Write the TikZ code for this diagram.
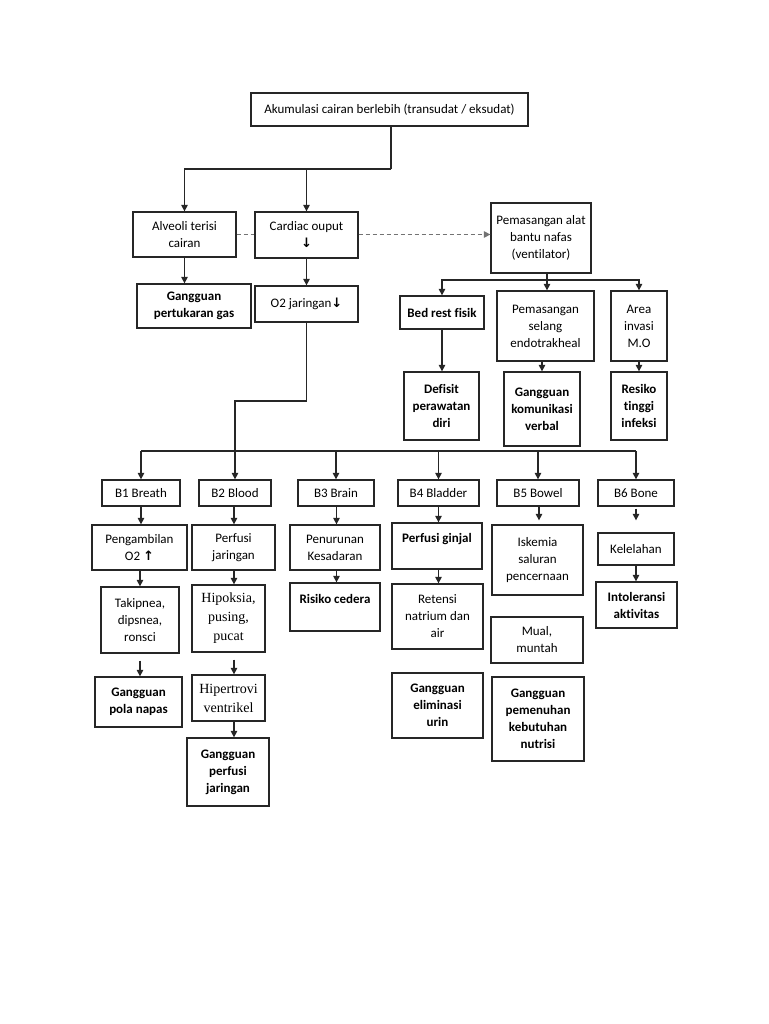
\documentclass[tikz,border=0pt]{standalone}
\usepackage{fontspec}
\setmainfont{Carlito}[Ligatures=NoCommon]
\newfontfamily\serf{Liberation Serif}
\newfontfamily\symf{DejaVu Sans}
\usetikzlibrary{arrows.meta}
\begin{document}
\begin{tikzpicture}[x=1pt,y=-1pt,
  bx/.style={draw=black!85, line width=1.3pt, align=center, inner sep=0pt, font=\fontsize{13}{17}\selectfont},
  bb/.style={bx, font=\fontsize{13}{17}\selectfont\bfseries},
  ser/.style={bx, font=\fontsize{14}{19}\selectfont\serf},
  sz/.style 2 args={minimum width=#1pt, minimum height=#2pt},
  arr/.style={draw=black!85, line width=1.3pt, -{Triangle[length=6.5pt,width=6.5pt]}},
  ln/.style={draw=black!85, line width=1.3pt},
  dsh/.style={draw=black!55, line width=1.2pt, dash pattern=on 4pt off 3pt},
  darr/.style={dsh, -{Triangle[length=6.5pt,width=6.5pt]}},
]
\path[use as bounding box] (0,0) rectangle (768,1024);

% top level
\node[bx, sz={277}{33}] (top) at (389.5,109.5) {Akumulasi cairan berlebih (transudat / eksudat)};
\node[bx, sz={103}{45}] (alv) at (184.5,234.5) {Alveoli terisi\\cairan};
\node[bx, sz={103}{46}] (card) at (306.5,235) {Cardiac ouput\\{\symf\bfseries\fontsize{13}{17}\selectfont ↓}};
\node[bb, sz={114}{44}] (gas) at (194,306) {Gangguan\\pertukaran gas};
\node[bx, sz={103}{36}] (o2) at (306.5,304) {O2 jaringan{\symf\bfseries\fontsize{13}{17}\selectfont ↓}};

% ventilator branch
\node[bx, sz={100}{70}] (pem) at (541,238) {Pemasangan alat\\bantu nafas\\(ventilator)};
\node[bb, sz={84}{33}] (bed) at (442,312.5) {Bed rest fisik};
\node[bx, sz={97}{70}] (sel) at (545.5,326) {Pemasangan\\selang\\endotrakheal};
\node[bx, sz={56}{70}] (area) at (639,326) {Area\\invasi\\M.O};
\node[bb, sz={75}{68}] (def) at (441.5,406) {Defisit\\perawatan\\diri};
\node[bb, sz={76}{74}] (kom) at (542,409) {Gangguan\\komunikasi\\verbal};
\node[bb, sz={56}{68}] (res) at (639,406) {Resiko\\tinggi\\infeksi};

% B row
\node[bx, sz={78}{26}] (b1) at (141,493) {B1 Breath};
\node[bx, sz={72}{26}] (b2) at (235,493) {B2 Blood};
\node[bx, sz={76}{26}] (b3) at (336,493) {B3 Brain};
\node[bx, sz={81}{26}] (b4) at (438.5,493) {B4 Bladder};
\node[bx, sz={82}{26}] (b5) at (538,493) {B5 Bowel};
\node[bx, sz={76}{26}] (b6) at (636,493) {B6 Bone};

% B1 column
\node[bx, sz={95}{45}] (peng) at (139.5,547.5) {Pengambilan\\O2 {\symf\bfseries\fontsize{13}{17}\selectfont ↑}};
\node[bx, sz={78}{66}] (tak) at (140,620) {Takipnea,\\dipsnea,\\ronsci};
\node[bb, sz={87}{50}] (pola) at (138.5,702) {Gangguan\\pola napas};

% B2 column
\node[bx, sz={83}{45}] (perf) at (233.5,547.5) {Perfusi\\jaringan};
\node[ser, sz={73}{67}] (hip) at (228.5,618.5) {Hipoksia,\\pusing,\\pucat};
\node[ser, sz={73}{46}] (hipt) at (228.5,698) {Hipertrovi\\ventrikel};
\node[bb, sz={82}{68}] (gpj) at (228,772) {Gangguan\\perfusi\\jaringan};

% B3 column
\node[bx, sz={90}{45}] (penu) at (335,547.5) {Penurunan\\Kesadaran};
\node[bb, sz={90}{48}] (ris) at (335,607) {Risiko cedera\\~};

% B4 column
\node[bb, sz={90}{46}] (ginj) at (437,546) {Perfusi ginjal\\~};
\node[bx, sz={91}{65}] (ret) at (437.5,616.5) {Retensi\\natrium dan\\air};
\node[bb, sz={91}{65}] (elim) at (437.5,705.5) {Gangguan\\eliminasi\\urin};

% B5 column
\node[bx, sz={91}{70}] (isk) at (537.5,560) {Iskemia\\saluran\\pencernaan};
\node[bx, sz={92}{46}] (mual) at (537,640) {Mual,\\muntah};
\node[bb, sz={92}{84}] (pemen) at (538,719) {Gangguan\\pemenuhan\\kebutuhan\\nutrisi};

% B6 column
\node[bx, sz={76}{32}] (kel) at (636,549) {Kelelahan};
\node[bb, sz={81}{46}] (into) at (636.5,605) {Intoleransi\\aktivitas};

% junctions
\coordinate (j1) at (391,169);
\coordinate (j2) at (547,280);
\coordinate (j3) at (306.5,401);
\coordinate (bus) at (0,451);

% connectors: top
\draw[ln] (top.south -| j1) -- (j1);
\draw[arr] (j1) -| (alv.north);
\draw[arr] (j1 -| card.north) -- (card.north);
\draw[dsh] (alv.east) -- (alv.east -| card.west);
\draw[darr] (alv.east -| card.east) -- (alv.east -| pem.west);
\draw[arr] (alv.south) -- (alv.south |- gas.north);
\draw[arr] (card.south) -- (card.south |- o2.north);

% ventilator branch
\draw[ln] (pem.south -| j2) -- (j2);
\draw[arr] (j2) -| (bed.north);
\draw[arr] (j2) -| (area.north);
\draw[arr] (j2) -- (j2 |- sel.north);
\draw[arr] (bed.south) -- (bed.south |- def.north);
\draw[arr] (sel.south -| kom.north) -- (kom.north);
\draw[arr] (area.south) -- (area.south |- res.north);

% to B row
\draw[arr] (o2.south) -- (j3) -| (b2.north);
\draw[ln] (b1.north |- bus) -- (b6.north |- bus);
\draw[arr] (b1.north |- bus) -- (b1.north);
\draw[arr] (b3.north |- bus) -- (b3.north);
\draw[arr] (b4.north |- bus) -- (b4.north);
\draw[arr] (b5.north |- bus) -- (b5.north);
\draw[arr] (b6.north |- bus) -- (b6.north);

% B columns
\draw[arr] (b1.south) -- (b1.south |- peng.north);
\draw[arr] (peng.south -| tak.north) -- (tak.north);
\draw[arr, shorten <=7pt] (tak.south) -- (tak.south |- pola.north);

\draw[arr] (b2.south -| 234,0) -- (234,0 |- perf.north);
\draw[arr] (perf.south -| 234,0) -- (234,0 |- hip.north);
\draw[arr, shorten <=7pt] (hip.south -| 234,0) -- (234,0 |- hipt.north);
\draw[arr] (hipt.south -| 234,0) -- (234,0 |- gpj.north);

\draw[arr] (b3.south -| 336.5,0) -- (336.5,0 |- penu.north);
\draw[arr] (penu.south -| 336.5,0) -- (336.5,0 |- ris.north);

\draw[arr] (b4.south) -- (b4.south |- ginj.north);
\draw[arr] (ginj.south -| b4.south) -- (b4.south |- ret.north);

\draw[arr, shorten >=4pt] (b5.south -| 539,0) -- (539,0 |- isk.north);

\draw[arr, shorten <=2pt, shorten >=12pt] (b6.south) -- (b6.south |- kel.north);
\draw[arr] (kel.south) -- (kel.south |- into.north);
\end{tikzpicture}
\end{document}
